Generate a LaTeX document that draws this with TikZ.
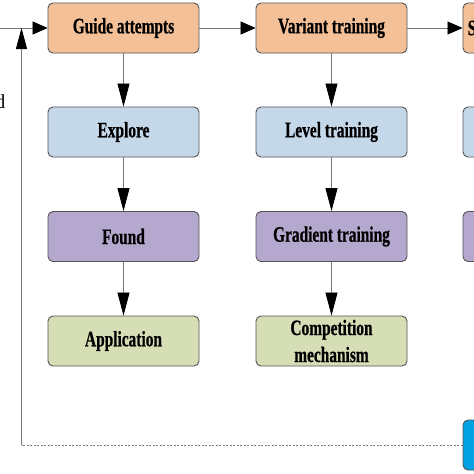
\documentclass[tikz,border=0pt]{standalone}
\usepackage{fontspec}
\setmainfont{Liberation Serif}
\newfontfamily\condfont{Liberation Serif Bold}[FakeStretch=0.7,FakeBold=0.6]
\usetikzlibrary{arrows.meta}
\definecolor{orangefill}{RGB}{244,192,152}
\definecolor{bluefill}{RGB}{197,216,234}
\definecolor{purplefill}{RGB}{180,168,206}
\definecolor{greenfill}{RGB}{214,222,182}
\definecolor{cyanfill}{RGB}{0,162,228}
\definecolor{edgegray}{RGB}{85,85,85}
\definecolor{linegray}{RGB}{120,120,120}
\tikzset{
  boxfont/.style={font=\condfont\fontsize{22}{26}\selectfont},
  box/.style={draw=edgegray, line width=0.9pt, rounded corners=5pt, minimum width=151pt, minimum height=50pt, inner sep=0pt, boxfont, align=center, text=black},
  hconn/.style={draw=linegray, line width=0.8pt, -{Triangle[length=15pt,width=13pt,black]}},
  vconn/.style={draw=linegray, line width=0.8pt, -{Triangle[length=23pt,width=12pt,black]}},
  loopconn/.style={draw=linegray, line width=0.8pt, -{Triangle[length=21pt,width=11pt,black]}},
}
\begin{document}
\begin{tikzpicture}[x=1pt,y=-1pt]
\useasboundingbox (0,0) rectangle (474,474);
\fill[white] (0,0) rectangle (474,474);
\begin{scope}
\clip (0,0) rectangle (474,474);
% column 1
\node[box, fill=orangefill] (guide) at (123.5,28) {Guide attempts};
\node[box, fill=bluefill] (explore) at (123.5,132) {Explore};
\node[box, fill=purplefill] (found) at (123.5,236.5) {Found};
\node[box, fill=greenfill] (app) at (123.5,341) {Application};
% column 2
\node[box, fill=orangefill] (variant) at (331.5,28) {Variant training};
\node[box, fill=bluefill] (level) at (331.5,132) {Level training};
\node[box, fill=purplefill] (grad) at (331.5,236.5) {Gradient training};
\node[box, fill=greenfill] (comp) at (331.5,341) {Competition\\[1pt]mechanism};
% column 3 (cut off)
\node[box, fill=orangefill] (third) at (538.5,28) {};
\node[anchor=west, inner sep=0pt, boxfont, text=black] (thirdtext) at (467.5,28) {S};
\node[box, fill=bluefill] (thirdb) at (538.5,132) {};
\node[box, fill=purplefill] (thirdc) at (538.5,236.5) {};
\node[box, fill=cyanfill, draw=edgegray] (bluebox) at (538.5,445) {};
% left text fragment
\node[anchor=east, inner sep=0pt, font=\fontsize{20}{24}\selectfont] (lefttext) at (5.5,102) {d};
% connectors
\coordinate (leftin) at (0,28);
\coordinate (loopcorner) at (21.5,445);
\coordinate (looptop) at (21.5,28);
\draw[hconn] (leftin) -- (guide.west);
\draw[hconn] (guide) -- (variant);
\draw[hconn] (variant) -- (third);
\draw[vconn] (guide) -- (explore);
\draw[vconn] (explore) -- (found);
\draw[vconn] (found) -- (app);
\draw[vconn] (variant) -- (level);
\draw[vconn] (level) -- (grad);
\draw[vconn] (grad) -- (comp);
\draw[draw=linegray, line width=0.8pt, dash pattern=on 2pt off 1.5pt] (bluebox.west) -- (loopcorner);
\draw[loopconn] (loopcorner) -- (looptop);
\end{scope}
\end{tikzpicture}
\end{document}
